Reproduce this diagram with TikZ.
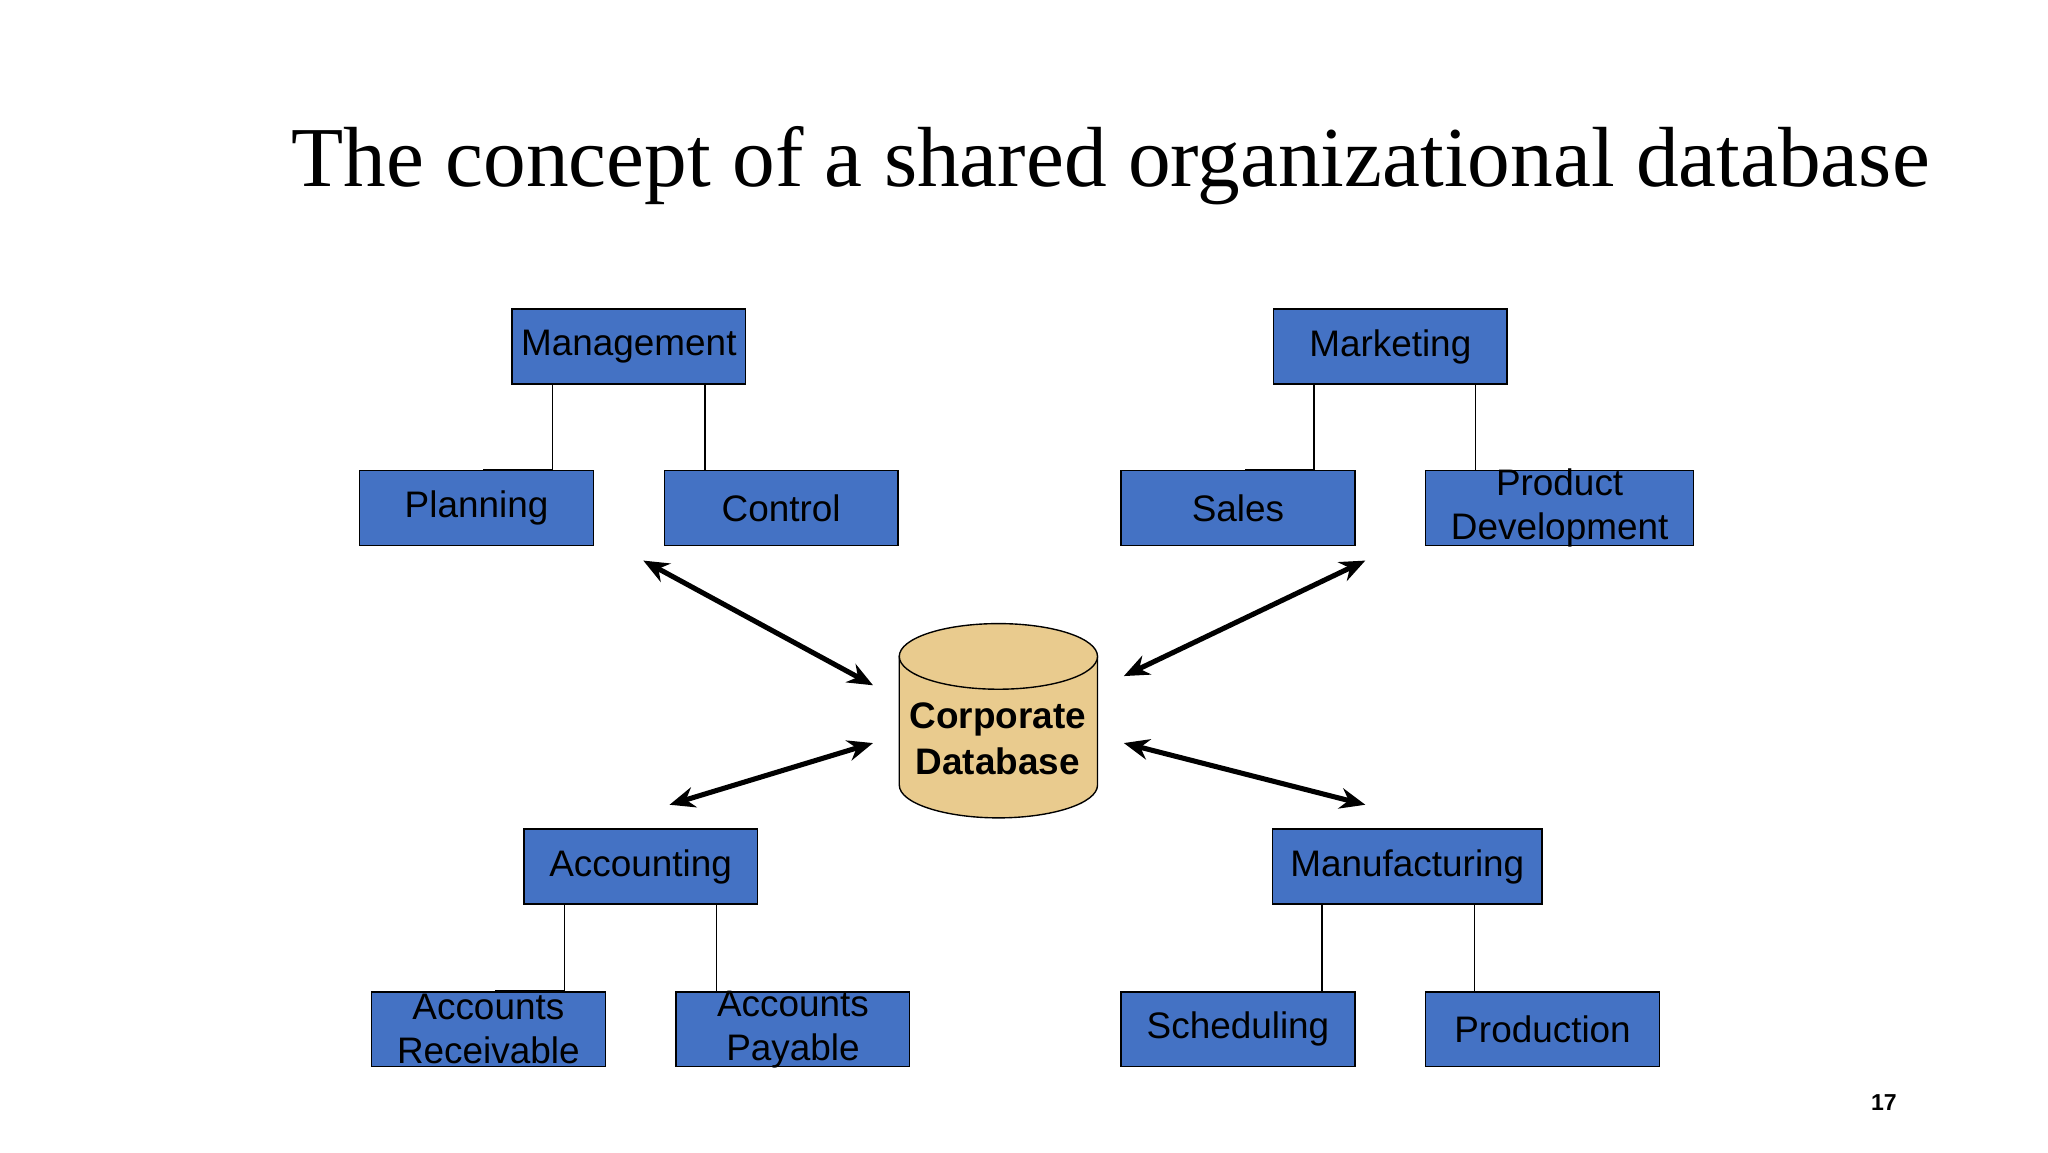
\documentclass[tikz,border=0pt]{standalone}
\usepackage{fontspec}
\setmainfont{Liberation Serif}
\newfontfamily\arial{Liberation Sans}
\usetikzlibrary{arrows.meta}
\begin{document}
\begin{tikzpicture}[x=0.02cm,y=-0.02cm,
  box/.style={draw=black,line width=0.6pt,fill=boxblue,inner sep=0pt},
  lbl/.style={font=\arial\fontsize{16}{19}\selectfont,align=center,inner sep=0pt},
  conn/.style={line width=0.6pt},
  arr/.style={line width=2.2pt,<->,>={Stealth[length=11pt,width=9pt]}}]
\definecolor{boxblue}{HTML}{4472C4}
\definecolor{tan}{HTML}{E9CB8E}
\useasboundingbox (0,0) rectangle (1560,878);
\node[font=\fontsize{37}{42}\selectfont,anchor=base] (title) at (846,142) {The concept of a shared organizational database};
% boxes
\newcommand{\bx}[6]{\node[box,minimum width=#4*0.02cm,minimum height=#5*0.02cm] (#1) at (#2,#3) {};
  \node[lbl] (#1t) at (#1) {#6};}
\bx{man}{479}{264}{178}{57}{Management}
\bx{pla}{363}{387}{178}{57}{Planning}
\bx{con}{595}{387}{178}{57}{Control}
\bx{mar}{1059}{264}{178}{57}{Marketing}
\bx{sal}{943}{387}{178}{57}{Sales}
\bx{pro}{1188}{387}{204}{57}{Product\\Development}
\bx{acc}{488}{660}{178}{57}{Accounting}
\bx{ar}{372}{784}{178}{57}{Accounts\\Receivable}
\bx{ap}{604}{784}{178}{57}{Accounts\\Payable}
\bx{mfg}{1072}{660}{205}{57}{Manufacturing}
\bx{sch}{943}{784}{178}{57}{Scheduling}
\bx{prd}{1175}{784}{178}{57}{Production}
% connectors
\draw[conn] ([xshift=-5*0.02cm]man.south) -- ++(-53,0) |- ([xshift=5*0.02cm]pla.north);
\draw[conn] (man.south -| con.north) ++(-58,0) coordinate (c1) -- (c1 |- con.north);
\draw[conn] ([xshift=-5*0.02cm]mar.south) -- ++(-53,0) |- ([xshift=5*0.02cm]sal.north);
\draw[conn] (mar.south) ++(65,0) coordinate (c2) -- (c2 |- pro.north);
\draw[conn] ([xshift=-5*0.02cm]acc.south) -- ++(-53,0) |- ([xshift=5*0.02cm]ar.north);
\draw[conn] (acc.south) ++(58,0) coordinate (c3) -- (c3 |- ap.north);
\draw[conn] (mfg.south) ++(-65,0) coordinate (c4) -- (c4 |- sch.north);
\draw[conn] (mfg.south) ++(51,0) coordinate (c5) -- (c5 |- prd.north);
% cylinder
\filldraw[fill=tan,draw=black,line width=0.6pt] (685,500) -- (685,598)
  .. controls (685,612) and (720,623) .. (760.5,623)
  .. controls (801,623) and (836,612) .. (836,598) -- (836,500) -- cycle;
\filldraw[fill=tan,draw=black,line width=0.6pt] (760.5,500) ellipse[x radius=75.5,y radius=25];
\node[lbl,font=\arial\bfseries\fontsize{16}{20}\selectfont] (db) at (760,563) {Corporate\\Database};
% arrow ends
\coordinate (a1) at (490,427); \coordinate (b1) at (665,522);
\coordinate (a2) at (1040,427); \coordinate (b2) at (856,515);
\coordinate (a3) at (510,613); \coordinate (b3) at (665,566);
\coordinate (a4) at (1040,613); \coordinate (b4) at (856,566);
\draw[arr] (a1) -- (b1);
\draw[arr] (a2) -- (b2);
\draw[arr] (a3) -- (b3);
\draw[arr] (a4) -- (b4);
\node[font=\arial\bfseries\fontsize{10}{12}\selectfont] (pg) at (1435,840) {17};
\end{tikzpicture}
\end{document}
